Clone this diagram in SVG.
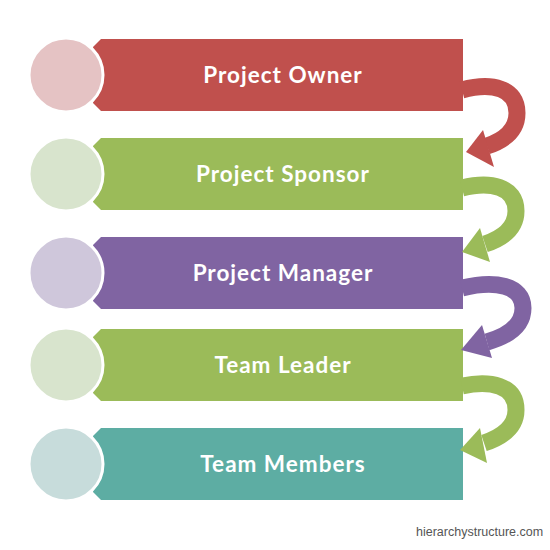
<svg xmlns="http://www.w3.org/2000/svg" width="550" height="550" viewBox="0 0 550 550">
<style>
.lbl{font-family:Lato,"Open Sans","Liberation Sans",sans-serif;font-weight:bold;font-size:22.5px;letter-spacing:1px;fill:#fff;text-anchor:middle}
.circ{stroke:#fff;stroke-width:3}
.shaft{fill:none;stroke-width:17}
.wm{font-family:"Liberation Sans",Arial,sans-serif;font-size:12.5px;fill:#555}
</style>
<rect width="550" height="550" fill="#fff"/>
<g id="node-owner">
<polygon points="101,39 463,39 463,111 101,111 93,103 93,47" fill="#C0504D"/>
<circle class="circ" cx="66" cy="75" r="37" fill="#E5C3C4"/>
<text class="lbl" x="283" y="82.5">Project Owner</text>
</g>
<g id="node-sponsor">
<polygon points="101,138 463,138 463,210 101,210 93,202 93,146" fill="#9BBB59"/>
<circle class="circ" cx="66" cy="174" r="37" fill="#D8E4CD"/>
<text class="lbl" x="283" y="181.5">Project Sponsor</text>
</g>
<g id="node-manager">
<polygon points="101,237 463,237 463,309 101,309 93,301 93,245" fill="#8064A2"/>
<circle class="circ" cx="66" cy="273" r="37" fill="#CFC7DB"/>
<text class="lbl" x="283" y="280.5">Project Manager</text>
</g>
<g id="node-leader">
<polygon points="101,329 463,329 463,401 101,401 93,393 93,337" fill="#9BBB59"/>
<circle class="circ" cx="66" cy="365" r="37" fill="#D8E4CD"/>
<text class="lbl" x="283" y="372.5">Team Leader</text>
</g>
<g id="node-members">
<polygon points="101,428 463,428 463,500 101,500 93,492 93,436" fill="#5DADA3"/>
<circle class="circ" cx="66" cy="464" r="37" fill="#C7DCDB"/>
<text class="lbl" x="283" y="471.5">Team Members</text>
</g>
<g id="connectors">
<g fill="#C0504D" stroke="#C0504D">
<path class="shaft" d="M462,90 C492,82 517,88 517,113 C517,130 505,140 487,146"/>
<polygon stroke="none" points="466,152 483,130 494,167"/>
</g>
<g fill="#9BBB59" stroke="#9BBB59">
<path class="shaft" d="M462,188 C490,181 516,186 516,211 C516,228 503,238 485,244"/>
<polygon stroke="none" points="462,252 480,228 490,262"/>
</g>
<g fill="#8064A2" stroke="#8064A2">
<path class="shaft" d="M462,288 C495,280 523,285 523,308 C523,326 508,336 487,342"/>
<polygon stroke="none" points="461,350 482,325 492,358"/>
</g>
<g fill="#9BBB59" stroke="#9BBB59">
<path class="shaft" d="M462,386 C490,380 516,385 516,410 C516,427 502,437 484,443"/>
<polygon stroke="none" points="460,450 480,428 487,463"/>
</g>
</g>
<text class="wm" x="416" y="536">hierarchystructure.com</text>
</svg>
